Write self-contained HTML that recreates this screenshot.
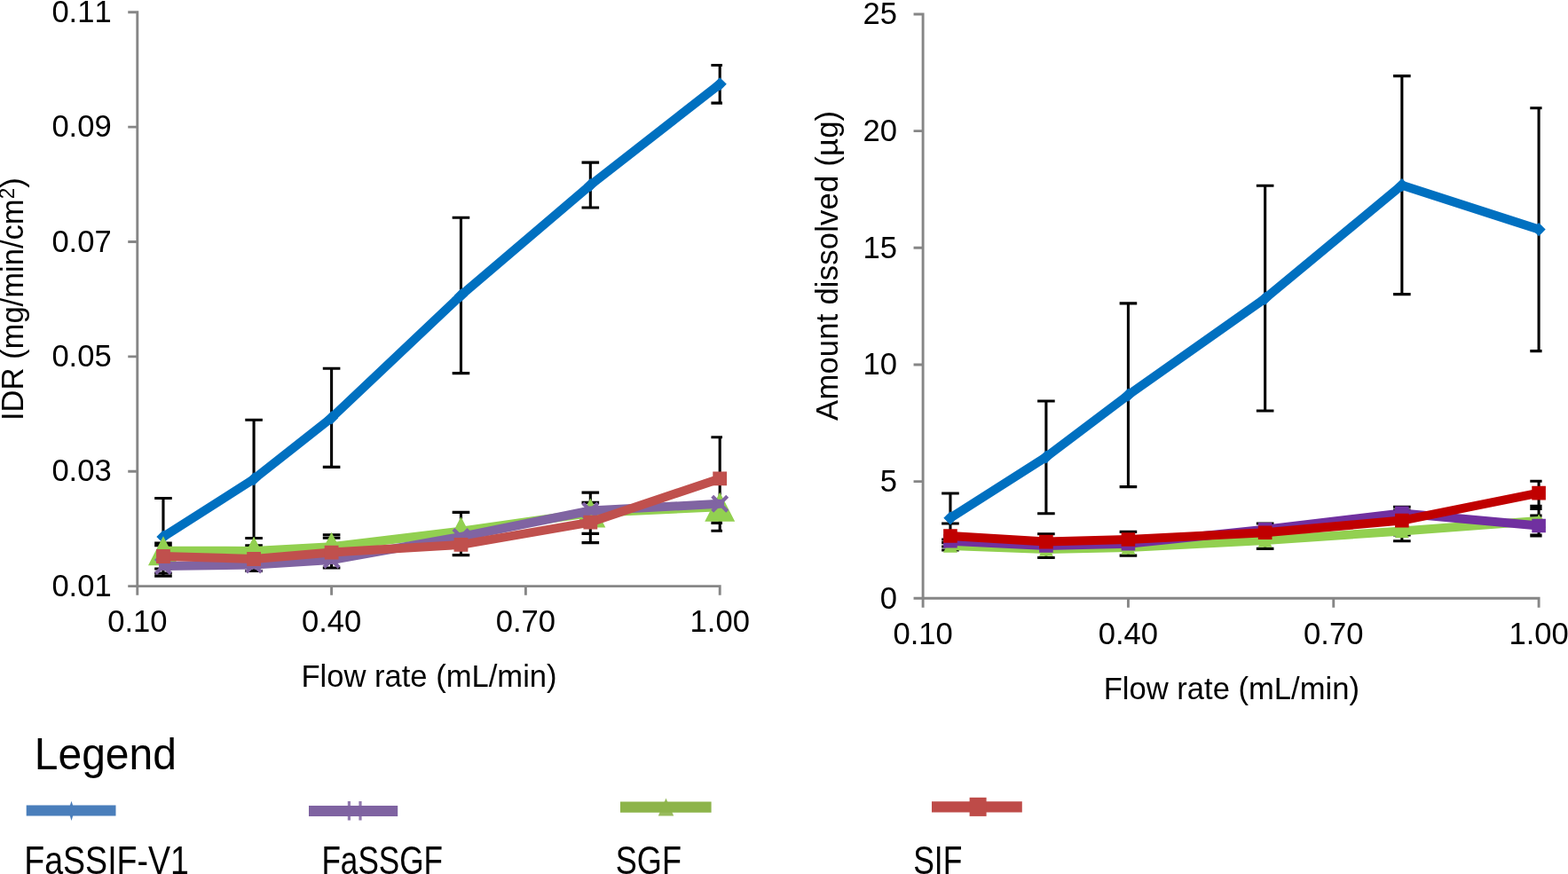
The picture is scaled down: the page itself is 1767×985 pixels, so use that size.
<!DOCTYPE html><html><head><meta charset="utf-8"><title>IDR and amount dissolved vs flow rate</title>
<style>html,body{margin:0;padding:0;background:#fff;overflow:hidden}svg{display:block}text{font-family:"Liberation Sans", Arial, sans-serif;fill:#000;font-kerning:none}</style></head><body>
<svg width="1767" height="985" viewBox="0 0 1767 985">
<rect width="1767" height="985" fill="#fff"/>
<defs>
<clipPath id="cp0"><rect x="150" y="0" width="664" height="665"/></clipPath>
<clipPath id="cp1"><rect x="1036" y="0" width="701.6" height="678"/></clipPath>
</defs>
<path d="M154.8 13.7V660.6H811.2M145.7 13.7H154.8M145.7 143.08H154.8M145.7 272.46H154.8M145.7 401.84H154.8M145.7 531.22H154.8M145.7 660.6H154.8M154.8 660.6V669.3M373.6 660.6V669.3M592.4 660.6V669.3M811.2 660.6V669.3" stroke="#868686" stroke-width="2.9" fill="none" stroke-linecap="square"/>
<text transform="translate(125.7,24.9) scale(1,1.04)" font-size="34.6" text-anchor="end">0.11</text>
<text transform="translate(125.7,154.28) scale(1,1.04)" font-size="34.6" text-anchor="end">0.09</text>
<text transform="translate(125.7,283.66) scale(1,1.04)" font-size="34.6" text-anchor="end">0.07</text>
<text transform="translate(125.7,413.04) scale(1,1.04)" font-size="34.6" text-anchor="end">0.05</text>
<text transform="translate(125.7,542.42) scale(1,1.04)" font-size="34.6" text-anchor="end">0.03</text>
<text transform="translate(125.7,671.8) scale(1,1.04)" font-size="34.6" text-anchor="end">0.01</text>
<text transform="translate(154.8,712.3) scale(1,1.04)" font-size="34.6" text-anchor="middle">0.10</text>
<text transform="translate(373.6,712.3) scale(1,1.04)" font-size="34.6" text-anchor="middle">0.40</text>
<text transform="translate(592.4,712.3) scale(1,1.04)" font-size="34.6" text-anchor="middle">0.70</text>
<text transform="translate(811.2,712.3) scale(1,1.04)" font-size="34.6" text-anchor="middle">1.00</text>
<text transform="translate(26.4,474.1) rotate(-90) scale(1,1.04)" font-size="34.6">IDR (mg/min/cm<tspan font-size="22.5" dy="-9.8">2</tspan><tspan dy="9.8">)</tspan></text>
<text transform="translate(483.5,774.1) scale(1,1.04)" font-size="34.6" text-anchor="middle">Flow rate (mL/min)</text>
<path d="M183.97 561.5V646M174.17 561.5H193.77M174.17 646H193.77M183.97 612V649.2M174.17 612H193.77M174.17 649.2H193.77M183.97 614.8V641M174.17 614.8H193.77M174.17 641H193.77M286.08 473.3V606.5M276.28 473.3H295.88M276.28 606.5H295.88M286.08 614.8V643.5M276.28 614.8H295.88M276.28 643.5H295.88M373.6 415.3V526.4M363.8 415.3H383.4M363.8 526.4H383.4M373.6 602.7V640M363.8 602.7H383.4M363.8 640H383.4M373.6 606.3V640M363.8 606.3H383.4M363.8 640H383.4M519.47 245.2V420.6M509.67 245.2H529.26M509.67 420.6H529.26M519.47 577.4V625.6M509.67 577.4H529.26M509.67 625.6H529.26M665.33 183.1V234M655.53 183.1H675.13M655.53 234H675.13M665.33 555.1V611.6M655.53 555.1H675.13M655.53 611.6H675.13M665.33 566.4V601.4M655.53 566.4H675.13M655.53 601.4H675.13M811.2 73.5V116.1M801.4 73.5H821M801.4 116.1H821M811.2 492.8V586M801.4 492.8H821M801.4 586H821M811.2 545.4V589.5M801.4 545.4H821M801.4 589.5H821M811.2 544.3V598.3M801.4 544.3H821M801.4 598.3H821" stroke="#000" stroke-width="3.1" fill="none" clip-path="url(#cp0)"/>
<polyline points="183.97,605 286.08,539.9 373.6,470.9 519.47,332.9 665.33,208.6 811.2,94.8" fill="none" stroke="#0070C0" stroke-width="10" stroke-linejoin="round" stroke-linecap="round"/>
<path d="M183.97 597.4L191.57 605L183.97 612.6L176.37 605ZM286.08 532.3L293.68 539.9L286.08 547.5L278.48 539.9ZM373.6 463.3L381.2 470.9L373.6 478.5L366 470.9ZM519.47 325.3L527.07 332.9L519.47 340.5L511.87 332.9ZM665.33 201L672.93 208.6L665.33 216.2L657.73 208.6ZM811.2 87.2L818.8 94.8L811.2 102.4L803.6 94.8Z" fill="#0070C0"/>
<polyline points="183.97,620.7 286.08,620.9 373.6,616.2 519.47,598.7 665.33,578 811.2,571.3" fill="none" stroke="#92D050" stroke-width="10" stroke-linejoin="round" stroke-linecap="round"/>
<path d="M183.97 604.2L200.97 637.2L166.97 637.2ZM286.08 604.4L303.08 637.4L269.08 637.4ZM373.6 599.7L390.6 632.7L356.6 632.7ZM519.47 582.2L536.47 615.2L502.47 615.2ZM665.33 561.5L682.33 594.5L648.33 594.5ZM811.2 554.8L828.2 587.8L794.2 587.8Z" fill="#92D050"/>
<polyline points="183.97,638 286.08,636.5 373.6,631 519.47,605 665.33,575.5 811.2,567.8" fill="none" stroke="#8064A2" stroke-width="10" stroke-linejoin="round" stroke-linecap="round"/>
<path d="M175.47 629.5L192.47 646.5M192.47 629.5L175.47 646.5M277.58 628L294.58 645M294.58 628L277.58 645M365.1 622.5L382.1 639.5M382.1 622.5L365.1 639.5M510.97 596.5L527.97 613.5M527.97 596.5L510.97 613.5M656.83 567L673.83 584M673.83 567L656.83 584M802.7 559.3L819.7 576.3M819.7 559.3L802.7 576.3" stroke="#8064A2" stroke-width="4.2" fill="none"/>
<polyline points="183.97,627 286.08,630 373.6,622.6 519.47,613.9 665.33,588.6 811.2,539.4" fill="none" stroke="#C0504D" stroke-width="10" stroke-linejoin="round" stroke-linecap="round"/>
<path d="M176.07 619.1h15.8v15.8h-15.8ZM278.18 622.1h15.8v15.8h-15.8ZM365.7 614.7h15.8v15.8h-15.8ZM511.57 606h15.8v15.8h-15.8ZM657.43 580.7h15.8v15.8h-15.8ZM803.3 531.5h15.8v15.8h-15.8Z" fill="#C0504D"/>
<path d="M1040.1 16V674.3H1734.1M1031 16H1040.1M1031 147.66H1040.1M1031 279.32H1040.1M1031 410.98H1040.1M1031 542.64H1040.1M1031 674.3H1040.1M1040.1 674.3V683.3M1271.43 674.3V683.3M1502.76 674.3V683.3M1734.09 674.3V683.3" stroke="#868686" stroke-width="2.9" fill="none" stroke-linecap="square"/>
<text transform="translate(1011,27.2) scale(1,1.04)" font-size="34.6" text-anchor="end">25</text>
<text transform="translate(1011,158.86) scale(1,1.04)" font-size="34.6" text-anchor="end">20</text>
<text transform="translate(1011,290.52) scale(1,1.04)" font-size="34.6" text-anchor="end">15</text>
<text transform="translate(1011,422.18) scale(1,1.04)" font-size="34.6" text-anchor="end">10</text>
<text transform="translate(1011,553.84) scale(1,1.04)" font-size="34.6" text-anchor="end">5</text>
<text transform="translate(1011,685.5) scale(1,1.04)" font-size="34.6" text-anchor="end">0</text>
<text transform="translate(1040.1,726.1) scale(1,1.04)" font-size="34.6" text-anchor="middle">0.10</text>
<text transform="translate(1271.43,726.1) scale(1,1.04)" font-size="34.6" text-anchor="middle">0.40</text>
<text transform="translate(1502.76,726.1) scale(1,1.04)" font-size="34.6" text-anchor="middle">0.70</text>
<text transform="translate(1734.09,726.1) scale(1,1.04)" font-size="34.6" text-anchor="middle">1.00</text>
<text transform="translate(943.8,473.9) rotate(-90) scale(1,1.04)" font-size="34.6" textLength="349" lengthAdjust="spacing">Amount dissolved (µg)</text>
<text transform="translate(1387.8,787.6) scale(1,1.04)" font-size="34.6" text-anchor="middle">Flow rate (mL/min)</text>
<path d="M1070.94 556V611.6M1061.14 556H1080.74M1061.14 611.6H1080.74M1070.94 590V620M1061.14 590H1080.74M1061.14 620H1080.74M1070.94 608V616M1061.14 608H1080.74M1061.14 616H1080.74M1178.9 452V578.7M1169.1 452H1188.7M1169.1 578.7H1188.7M1178.9 601.8V628.5M1169.1 601.8H1188.7M1169.1 628.5H1188.7M1271.43 341.9V548.6M1261.63 341.9H1281.23M1261.63 548.6H1281.23M1271.43 599.4V626.1M1261.63 599.4H1281.23M1261.63 626.1H1281.23M1425.65 209.2V463M1415.85 209.2H1435.45M1415.85 463H1435.45M1425.65 590V618.4M1415.85 590H1435.45M1415.85 618.4H1435.45M1579.87 85.6V331.6M1570.07 85.6H1589.67M1570.07 331.6H1589.67M1579.87 571.3V609.8M1570.07 571.3H1589.67M1570.07 609.8H1589.67M1579.87 575V603M1570.07 575H1589.67M1570.07 603H1589.67M1734.09 121.8V395.6M1724.29 121.8H1743.89M1724.29 395.6H1743.89M1734.09 542.3V570.2M1724.29 542.3H1743.89M1724.29 570.2H1743.89M1734.09 573.4V603M1724.29 573.4H1743.89M1724.29 603H1743.89M1734.09 581.1V604M1724.29 581.1H1743.89M1724.29 604H1743.89" stroke="#000" stroke-width="3.1" fill="none" clip-path="url(#cp1)"/>
<polyline points="1070.94,583.8 1178.9,515 1271.43,445.2 1425.65,336.3 1579.87,208.7 1734.09,258.6" fill="none" stroke="#0070C0" stroke-width="10" stroke-linejoin="round" stroke-linecap="round"/>
<path d="M1070.94 576.2L1078.54 583.8L1070.94 591.4L1063.34 583.8ZM1178.9 507.4L1186.5 515L1178.9 522.6L1171.3 515ZM1271.43 437.6L1279.03 445.2L1271.43 452.8L1263.83 445.2ZM1425.65 328.7L1433.25 336.3L1425.65 343.9L1418.05 336.3ZM1579.87 201.1L1587.47 208.7L1579.87 216.3L1572.27 208.7ZM1734.09 251L1741.69 258.6L1734.09 266.2L1726.49 258.6Z" fill="#0070C0"/>
<polyline points="1070.94,615 1178.9,619 1271.43,617 1425.65,609 1579.87,598.5 1734.09,587" fill="none" stroke="#92D050" stroke-width="10" stroke-linejoin="round" stroke-linecap="round"/>
<path d="M1070.94 607.2L1078.94 622.8L1062.94 622.8ZM1178.9 611.2L1186.9 626.8L1170.9 626.8ZM1271.43 609.2L1279.43 624.8L1263.43 624.8ZM1425.65 601.2L1433.65 616.8L1417.65 616.8ZM1579.87 590.7L1587.87 606.3L1571.87 606.3ZM1734.09 579.2L1742.09 594.8L1726.09 594.8Z" fill="#92D050"/>
<polyline points="1070.94,609.8 1178.9,614.9 1271.43,612.7 1425.65,596.7 1579.87,578.4 1734.09,592.5" fill="none" stroke="#7030A0" stroke-width="10" stroke-linejoin="round" stroke-linecap="round"/>
<path d="M1063.14 602h15.6v15.6h-15.6ZM1171.1 607.1h15.6v15.6h-15.6ZM1263.63 604.9h15.6v15.6h-15.6ZM1417.85 588.9h15.6v15.6h-15.6ZM1572.07 570.6h15.6v15.6h-15.6ZM1726.29 584.7h15.6v15.6h-15.6Z" fill="#7030A0"/>
<polyline points="1070.94,604 1178.9,610.6 1271.43,608 1425.65,600.3 1579.87,586.6 1734.09,555.6" fill="none" stroke="#C00000" stroke-width="10" stroke-linejoin="round" stroke-linecap="round"/>
<path d="M1063.14 596.2h15.6v15.6h-15.6ZM1171.1 602.8h15.6v15.6h-15.6ZM1263.63 600.2h15.6v15.6h-15.6ZM1417.85 592.5h15.6v15.6h-15.6ZM1572.07 578.8h15.6v15.6h-15.6ZM1726.29 547.8h15.6v15.6h-15.6Z" fill="#C00000"/>
<text transform="translate(38.8,866.9) scale(1,1.04)" font-size="48">Legend</text>
<line x1="29.7" y1="913.5" x2="130.5" y2="913.5" stroke="#4A7EBB" stroke-width="12.2"/>
<text transform="translate(27.2,984.8) scale(1,1.04)" font-size="42.6" textLength="185.8" lengthAdjust="spacingAndGlyphs">FaSSIF-V1</text>
<line x1="348.0" y1="914.0" x2="448.2" y2="914.0" stroke="#7F63A1" stroke-width="12.2"/>
<text transform="translate(362.4,984.8) scale(1,1.04)" font-size="42.6" textLength="136.7" lengthAdjust="spacingAndGlyphs">FaSSGF</text>
<line x1="699.0" y1="909.7" x2="801.6" y2="909.7" stroke="#8DB44A" stroke-width="12.2"/>
<text transform="translate(693.8,984.8) scale(1,1.04)" font-size="42.6" textLength="74.2" lengthAdjust="spacingAndGlyphs">SGF</text>
<line x1="1050.0" y1="909.4" x2="1151.8" y2="909.4" stroke="#BE4B48" stroke-width="12.2"/>
<text transform="translate(1029.2,984.8) scale(1,1.04)" font-size="42.6" textLength="55.2" lengthAdjust="spacingAndGlyphs">SIF</text>
<path d="M80.5 902.8L84 913.5L80.5 924.9L77 913.5Z" fill="#4A7EBB"/>
<path d="M391.8 903h3.2v21.5h-3.2ZM404.4 903h3.2v21.5h-3.2Z" fill="#7F63A1" fill-opacity="0.85"/>
<path d="M750.5 899.5L759.2 919.6H741.8Z" fill="#8DB44A" fill-opacity="0.9"/>
<rect x="1092.6" y="898.8" width="19" height="21.1" fill="#BE4B48"/>
</svg></body></html>
